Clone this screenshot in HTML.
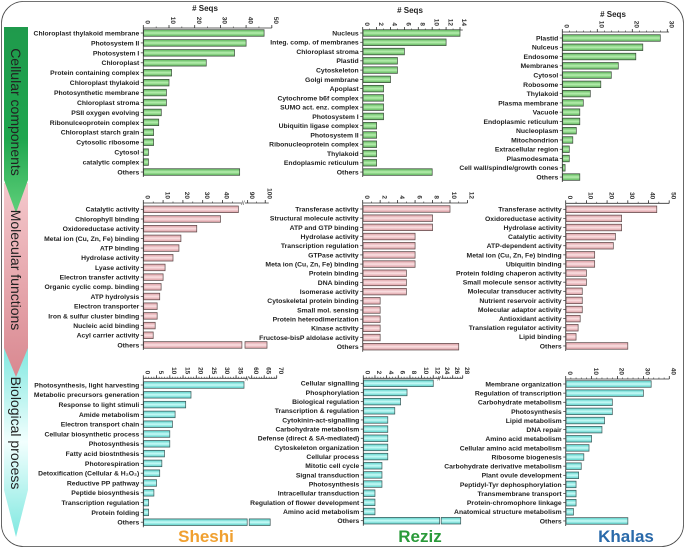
<!DOCTYPE html>
<html><head><meta charset="utf-8"><style>
html,body{margin:0;padding:0;background:#fff;}
svg{display:block;font-family:"Liberation Sans",sans-serif;}
</style></head><body>
<svg id="fig" width="685" height="548" viewBox="0 0 685 548" xmlns="http://www.w3.org/2000/svg">
<defs>
<linearGradient id="gG" x1="0" y1="0" x2="0" y2="1"><stop offset="0" stop-color="#5cb35a"/><stop offset="0.5" stop-color="#b6efae"/><stop offset="1" stop-color="#5cb35a"/></linearGradient>
<linearGradient id="gP" x1="0" y1="0" x2="0" y2="1"><stop offset="0" stop-color="#d99aa0"/><stop offset="0.5" stop-color="#fbe0e2"/><stop offset="1" stop-color="#d99aa0"/></linearGradient>
<linearGradient id="gC" x1="0" y1="0" x2="0" y2="1"><stop offset="0" stop-color="#55cfc8"/><stop offset="0.5" stop-color="#c8fbf7"/><stop offset="1" stop-color="#55cfc8"/></linearGradient>
<linearGradient id="aG" x1="0" y1="0" x2="0" y2="1"><stop offset="0" stop-color="#1f9a4c"/><stop offset="0.6" stop-color="#1fa64e"/><stop offset="1" stop-color="#5fd07a"/></linearGradient>
<linearGradient id="aP" x1="0" y1="0" x2="0" y2="1"><stop offset="0" stop-color="#f4c8cc"/><stop offset="1" stop-color="#d98890"/></linearGradient>
<linearGradient id="aC" x1="0" y1="0" x2="0" y2="1"><stop offset="0" stop-color="#7fe8e0"/><stop offset="0.5" stop-color="#f2fffe"/><stop offset="1" stop-color="#7fe8e0"/></linearGradient>
</defs>
<rect x="1.5" y="1.5" width="682" height="545" rx="22" fill="none" stroke="#444" stroke-width="0.8"/>
<g>
<polygon points="4,347 28,347 28,490 16,537 4,490" fill="url(#aC)"/>
<polygon points="4,183 28,183 28,348 16,377 4,348" fill="url(#aP)"/>
<polygon points="4,27 28,27 28,180 16,213 4,180" fill="url(#aG)"/>
<text transform="translate(11,112) rotate(90)" text-anchor="middle" font-size="14" fill="#222">Cellular components</text>
<text transform="translate(11,270) rotate(90)" text-anchor="middle" font-size="14" fill="#222">Molecular functions</text>
<text transform="translate(11,433) rotate(90)" text-anchor="middle" font-size="14" fill="#222">Biological process</text>
</g>
<text x="206" y="542" text-anchor="middle" font-size="17" font-weight="bold" fill="#f0a030">Sheshi</text>
<text x="420" y="542" text-anchor="middle" font-size="17" font-weight="bold" fill="#2a9a3a">Reziz</text>
<text x="626" y="542" text-anchor="middle" font-size="17" font-weight="bold" fill="#2a6aaa">Khalas</text>
</svg>
<script>
// ---- data ----
const ccSheshiCats = ["Chloroplast thylakoid membrane","Photosystem II","Photosystem I","Chloroplast","Protein containing complex","Chloroplast thylakoid","Photosynthetic membrane","Chloroplast stroma","PSII oxygen evolving","Ribonulceoprotein complex","Chloroplast starch grain","Cytosolic ribosome","Cytosol","catalytic complex","Others"];
const ccSheshiVals = [47,40,35.5,24.5,11,10,9,9,7,6,4,4,2,2,37.5];
const ccRezizCats = ["Nucleus","Integ. comp. of membranes","Chloroplast stroma","Plastid","Cytoskeleton","Golgi membrane","Apoplast","Cytochrome b6f complex","SUMO act. enz. complex","Photosystem I","Ubiquitin ligase complex","Photosystem II","Ribonucleoprotein complex","Thylakoid","Endoplasmic reticulum","Others"];
const ccRezizVals = [14,12,6,5,5,4,3,3,3,3,2,2,2,2,2,10];
const ccKhalasCats = ["Plastid","Nulceus","Endosome","Membranes","Cytosol","Robosome","Thylakoid","Plasma membrane","Vacuole","Endoplasmic reticulum","Nucleoplasm","Mitochondrion","Extracellular region","Plasmodesmata","Cell wall/spindle/growth cones","Others"];
const ccKhalasVals = [28,23,21,16,14,11,8,6,5,5,4,3,2,2,0.8,5];
const mfSheshiCats = ["Catalytic activity","Chlorophyll binding","Oxidoreductase activity","Metal ion (Cu, Zn, Fe) binding","ATP binding","Hydrolase activity","Lyase activity","Electron transfer activity","Organic cyclic comp. binding","ATP hydrolysis","Electron transporter","Iron & sulfur cluster binding","Nucleic acid binding","Acyl carrier activity","Others"];
const mfSheshiVals = [48,39,27,19,18,15,11,10,9,8.3,7,7,6,5,101];
const mfRezizCats = ["Transferase activity","Structural molecule activity","ATP and GTP binding","Hydrolase activity","Transcription regulation","GTPase activity","Meta ion (Cu, Zn, Fe) binding","Protein binding","DNA binding","Isomerase activity","Cytoskeletal protein binding","Small mol. sensing","Protein heterodimerization","Kinase activity","Fructose-bisP aldolase activity","Others"];
const mfRezizVals = [10,8,8,6,6,6,6,5,5,5,2,2,2,2,2,11];
const mfKhalasCats = ["Transferase activity","Oxidoreductase activity","Hydrolase activity","Catalytic activity","ATP-dependent activity","Metal ion (Cu, Zn, Fe) binding","Ubiquitin binding","Protein folding chaperon activity","Small molecule sensor activity","Molecular transducer activity","Nutrient reservoir activity","Molecular adaptor activity","Antioxidant activity","Translation regulator activity","Lipid binding","Others"];
const mfKhalasVals = [44,27,27,24,23,14,14,10,10,8,8,8,7,6,5,30];
const bpSheshiCats = ["Photosynthesis, light harvesting","Metabolic precursors generation","Response to light stimuli","Amide metabolism","Electron transport chain","Cellular biosynthetic process","Photosynthesis","Fatty acid biostnthesis","Photorespiration","Detoxification (Cellular & H\u2082O\u2082)","Reductive PP pathway","Peptide biosynthesis","Transcription regulation","Protein folding","Others"];
const bpSheshiVals = [38,18,16,12,11,10,10,8,7,6.2,5,4,2,2,67.4];
const bpRezizCats = ["Cellular signalling","Phosphorylation","Biological regulation","Transcription & regulation","Cytokinin-act-signalling","Carbohydrate metabolism","Defense (direct & SA-mediated)","Cytoskeleton organization","Cellular process","Mitotic cell cycle","Signal transduction","Photosynthesis","Intracellular transduction","Regulation of flower development","Amino acid metabolism","Others"];
const bpRezizVals = [12,7.5,6.4,5.4,4.2,4.2,4.2,4.2,4.2,3.2,3.2,3.2,2,2,2,27.6];
const bpKhalasCats = ["Membrane organization","Regulation of transcription","Carbohydrate metabolism","Photosynthesis","Lipid metabolism","DNA repair","Amino acid metabolism","Cellular amino acid metabolism","Ribosome biogenesis","Carbohydrate derivative metabolism","Plant ovule development","Peptidyl-Tyr dephosphorylation","Transmembrane transport","Protein-chromophore linkage","Anatomical structure metabolism","Others"];
const bpKhalasVals = [33,30,18,18,15,14,10,9,7,6,5,4,4,4,3,24];
const ticksCC1 = [0,10,20,30,40,50];
const ticksCC2 = [0,2,4,6,8,10,12,14];
const ticksCC3 = [0,10,20,30];
const ticksMF1 = [0,10,20,30,40,90,100];
const ticksMF2 = [0,2,4,6,8,10,12];
const ticksMF3 = [0,10,20,30,40,50];
const ticksBP1 = [0,5,10,15,20,25,30,35,60,65,70];
const ticksBP2 = [0,2,4,6,8,10,12,24,26,28];
const ticksBP3 = [0,10,20,30,40];

// ---- layout ----
const panels = [
 {name:"cc-sheshi",cats:ccSheshiCats,vals:ccSheshiVals,ticks:ticksCC1,fill:"url(#gG)",stroke:"#3d4a3d",axisY:28,row0:33,dy:9.93,segs:[{v0:0,v1:50,x0:143.3,k:2.57}],title:[205,11],minor:5},
 {name:"cc-reziz",cats:ccRezizCats,vals:ccRezizVals,ticks:ticksCC2,fill:"url(#gG)",stroke:"#3d4a3d",axisY:30,row0:33,dy:9.27,segs:[{v0:0,v1:14.4,x0:362.7,k:6.95}],title:[410,13],minor:1},
 {name:"cc-khalas",cats:ccKhalasCats,vals:ccKhalasVals,ticks:ticksCC3,fill:"url(#gG)",stroke:"#3d4a3d",axisY:32,row0:38,dy:9.27,segs:[{v0:0,v1:30.5,x0:562.3,k:3.5}],title:[613,17],minor:2},
 {name:"mf-sheshi",cats:mfSheshiCats,vals:mfSheshiVals,ticks:ticksMF1,fill:"url(#gP)",stroke:"#5a4848",axisY:203,row0:209.3,dy:9.69,segs:[{v0:0,v1:49.8,x0:143.3,k:1.98},{v0:88.5,v1:102,x0:245,k:1.76}],minor:5},
 {name:"mf-reziz",cats:mfRezizCats,vals:mfRezizVals,ticks:ticksMF2,fill:"url(#gP)",stroke:"#5a4848",axisY:203,row0:209,dy:9.18,segs:[{v0:0,v1:12,x0:362.7,k:8.73}],minor:1},
 {name:"mf-khalas",cats:mfKhalasCats,vals:mfKhalasVals,ticks:ticksMF3,fill:"url(#gP)",stroke:"#5a4848",axisY:203.3,row0:209.3,dy:9.11,segs:[{v0:0,v1:50,x0:565.7,k:2.07}],minor:5},
 {name:"bp-sheshi",cats:bpSheshiCats,vals:bpSheshiVals,ticks:ticksBP1,fill:"url(#gC)",stroke:"#3e5656",axisY:378.3,row0:385,dy:9.8,segs:[{v0:0,v1:39.2,x0:143.3,k:2.65},{v0:59,v1:70,x0:249.2,k:2.5}],minor:1},
 {name:"bp-reziz",cats:bpRezizCats,vals:bpRezizVals,ticks:ticksBP2,fill:"url(#gC)",stroke:"#3e5656",axisY:378.3,row0:383.3,dy:9.16,segs:[{v0:0,v1:13.1,x0:363.3,k:5.83},{v0:23.7,v1:28,x0:441.2,k:5}],minor:0.5},
 {name:"bp-khalas",cats:bpKhalasCats,vals:bpKhalasVals,ticks:ticksBP3,fill:"url(#gC)",stroke:"#3e5656",axisY:379,row0:384,dy:9.13,segs:[{v0:0,v1:40,x0:565.7,k:2.59}],minor:2}
];
const NS="http://www.w3.org/2000/svg";
const svg=document.getElementById("fig");
function mk(tag,attrs,parent){const e=document.createElementNS(NS,tag);for(const k in attrs)e.setAttribute(k,attrs[k]);(parent||svg).appendChild(e);return e;}
function segX(s,v){return s.x0+(v-s.v0)*s.k;}
function xOf(p,v){for(const s of p.segs){if(v<=s.v1)return segX(s,Math.max(v,s.v0));}const l=p.segs[p.segs.length-1];return segX(l,v);}

panels.forEach(p=>{
 const g=mk("g",{});
 
 
 const x0=p.segs[0].x0;
 const lastY=p.row0+p.dy*(p.cats.length-1);
 p.segs.forEach((s,si)=>{
  const ax=mk("line",{x1:segX(s,s.v0),x2:segX(s,s.v1),y1:p.axisY,y2:p.axisY,stroke:"#333","stroke-width":0.8},g);
  
  
  for(let v=Math.ceil(s.v0/p.minor)*p.minor; v<=s.v1+1e-6; v+=p.minor){
   const tx=segX(s,v);
   const t=mk("line",{x1:tx,x2:tx,y1:p.axisY,y2:p.axisY-1.5,stroke:"#333","stroke-width":0.6},g);
   
   
  }
  if(si>0){
   const bx=segX(s,s.v0)-2;
   const br=mk("text",{x:bx,y:p.axisY+2,"font-size":6,"text-anchor":"middle",fill:"#333"},g);
   br.textContent="//";
   
   
  }
 });
 p.ticks.forEach(v=>{
  const tx=xOf(p,v);
  const t=mk("line",{x1:tx,x2:tx,y1:p.axisY,y2:p.axisY-3,stroke:"#333","stroke-width":0.8},g);
  
  
  const lb=mk("text",{transform:`translate(${tx+2.2},${p.axisY-4}) rotate(90)`,"text-anchor":"end","font-size":6.5,"font-weight":"bold",fill:"#333"},g);
  lb.textContent=v;
  
  
 });
 if(p.title){
  const tt=mk("text",{x:p.title[0],y:p.title[1],"text-anchor":"middle","font-size":8,"font-weight":"bold",fill:"#222"},g);
  tt.textContent="# Seqs";
  
  
 }
 const ya=mk("line",{x1:x0,x2:x0,y1:p.axisY,y2:lastY+5,stroke:"#333","stroke-width":0.8},g);
 
 
 p.cats.forEach((c,i)=>{
  const y=p.row0+p.dy*i;
  const v=p.vals[i];
  const tk=mk("line",{x1:x0-2.5,x2:x0,y1:y,y2:y,stroke:"#333","stroke-width":0.7},g);
  
  
  const lb=mk("text",{x:x0-4,y:y+2.4,"text-anchor":"end","font-size":6.8,"font-weight":"bold",fill:"#222"},g);
  lb.textContent=c;
  
  
  const h=6.6;
  const s0=p.segs[0];
  if(p.segs.length>1 && v>s0.v1){
   const r1=mk("rect",{x:x0+0.4,y:y-h/2,width:segX(s0,s0.v1)-x0-0.4,height:h,fill:p.fill,stroke:p.stroke,"stroke-width":0.7},g);
   
   
   const s1=p.segs[1];
   const r2=mk("rect",{x:segX(s1,s1.v0),y:y-h/2,width:Math.max(0.5,xOf(p,v)-segX(s1,s1.v0)),height:h,fill:p.fill,stroke:p.stroke,"stroke-width":0.7},g);
   
   
  } else {
   const r=mk("rect",{x:x0+0.4,y:y-h/2,width:Math.max(0.5,xOf(p,v)-x0-0.4),height:h,fill:p.fill,stroke:p.stroke,"stroke-width":0.7},g);
   
   
  }
 });
});
</script>
</body></html>
